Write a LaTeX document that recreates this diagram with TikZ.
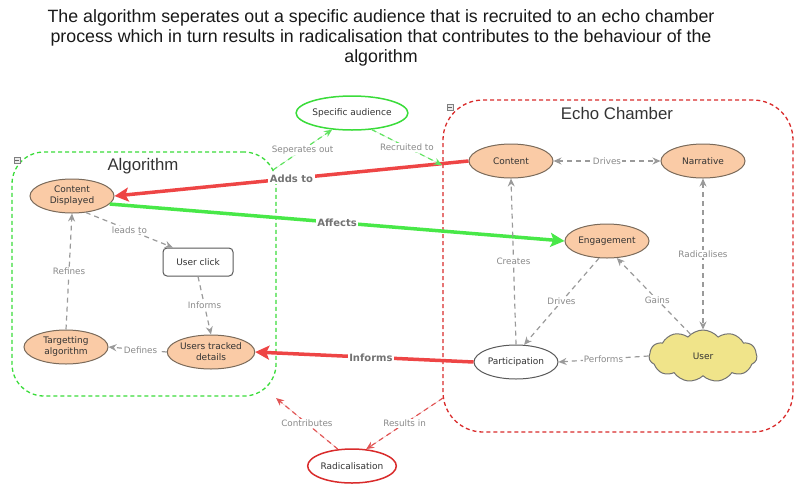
\documentclass[tikz,border=0pt]{standalone}
\usepackage{fontspec}
\setmainfont{Liberation Sans}
\newfontfamily\nodefont{DejaVu Sans}
\usetikzlibrary{shapes.geometric,shapes.symbols,arrows.meta,calc}
\definecolor{peach}{HTML}{FACBA6}
\definecolor{peachline}{HTML}{7A6A5A}
\definecolor{thickred}{HTML}{EE4545}
\definecolor{thickgreen}{HTML}{48E848}
\definecolor{grpgreen}{HTML}{3ADC3A}
\definecolor{grpred}{HTML}{D92B2B}
\definecolor{lblgray}{HTML}{8A8A8A}
\definecolor{conngray}{HTML}{9A9A9A}
\definecolor{cloudfill}{HTML}{F0E48A}
\tikzset{
  x=1pt,y=-1pt,
  every node/.style={font=\nodefont\fontsize{9}{11}\selectfont, text=black!80},
  peachnode/.style={ellipse, draw=peachline, fill=peach, line width=1pt, minimum width=84pt, minimum height=34pt, inner sep=0pt, align=center},
  whitenode/.style={ellipse, draw=black!65, fill=white, line width=1pt, minimum width=84pt, minimum height=34pt, inner sep=0pt, align=center},
  grouptitle/.style={font=\fontsize{16.8}{20}\selectfont, text=black!80},
  grpbox/.style={rounded corners=32pt, dash pattern=on 4pt off 3pt, line width=1.3pt},
  conn/.style={draw=conngray, dash pattern=on 5pt off 4pt, line width=1.2pt, -{Stealth[length=8pt,width=7pt]}},
  gconn/.style={conn, draw=grpgreen!80!white, fill=grpgreen},
  rconn/.style={conn, draw=grpred!80!white, fill=grpred},
  lbl/.style={fill=white, inner sep=1pt, text=lblgray, font=\nodefont\fontsize{8.8}{10}\selectfont},
  thickarrow/.style={line width=3.5pt, -{Stealth[length=14pt,width=14pt,inset=3pt]}},
  biglbl/.style={fill=white, inner sep=1.5pt, text=black!55, font=\nodefont\bfseries\fontsize{10}{12}\selectfont},
  icon/.style={draw=black!50, fill=black!8, line width=0.5pt, minimum size=6pt, inner sep=0pt}
}
\begin{document}
\begin{tikzpicture}
\useasboundingbox (0,0) rectangle (800,491);
% title
\node[font=\fontsize{17.8}{20}\selectfont, align=center, text=black!90] (title) at (381,38)
 {The algorithm seperates out a specific audience that is recruited to an echo chamber\\
  process which in turn results in radicalisation that contributes to the behaviour of the\\
  algorithm};
% groups
\node[grpbox, draw=grpgreen, minimum width=264pt, minimum height=244pt] (alg) at (144,274) {};
\node[grpbox, draw=grpred, rounded corners=40pt, minimum width=350pt, minimum height=332pt] (echo) at (618,266) {};
\node[grouptitle] (algt) at (143,166) {Algorithm};
\node[grouptitle] (echot) at (617,113) {Echo Chamber};
\node[icon] (ic1) at (17,160) {};
\draw[black!60, line width=0.6pt] ($(ic1.west)+(1.5pt,0)$) -- ($(ic1.east)+(-1.5pt,0)$);
\node[icon] (ic2) at (450,107) {};
\draw[black!60, line width=0.6pt] ($(ic2.west)+(1.5pt,0)$) -- ($(ic2.east)+(-1.5pt,0)$);
% nodes
\node[peachnode] (cd) at (72,196) {Content\\Displayed};
\node[draw=black!65, fill=white, rounded corners=4pt, line width=1pt, minimum width=70pt, minimum height=28pt] (uc) at (198,262) {User click};
\node[peachnode] (ta) at (66,347) {Targetting\\algorithm};
\node[peachnode] (utd) at (211,352) {Users tracked\\details};
\node[ellipse, draw=grpgreen, fill=white, line width=1.5pt, minimum width=82pt, minimum height=34pt, inner sep=0pt] (sa) at (352,113) {Specific audience};
\node[peachnode] (ct) at (511,161) {Content};
\node[peachnode] (nar) at (703,161) {Narrative};
\node[peachnode] (eng) at (607,241) {Engagement};
\node[whitenode] (par) at (516,362) {Participation};
\node[cloud, cloud puffs=11, cloud puff arc=100, aspect=2.2, draw=black!55, fill=cloudfill, line width=1pt, minimum width=108pt, minimum height=52pt, inner sep=0pt] (usr) at (703,356) {User};
\node[ellipse, draw=grpred, fill=white, line width=1.5pt, minimum width=84pt, minimum height=34pt, inner sep=0pt] (rad) at (352,466) {Radicalisation};
% coordinates on group borders
\coordinate (sepS) at (273,170);
\coordinate (recE) at (442,165);
\coordinate (conE) at (276,398);
\coordinate (resS) at (443,398);
% thick connectors
\draw[thickarrow, draw=thickred, fill=thickred] (ct.west) -- node[biglbl, pos=0.5] {Adds to} (cd.east);
\draw[thickarrow, draw=thickgreen, fill=thickgreen] (cd.-12) -- node[biglbl, pos=0.5] {Affects} (eng.west);
\draw[thickarrow, draw=thickred, fill=thickred] (par.west) -- node[biglbl, pos=0.47] {Informs} (utd.east);
% algorithm connectors
\draw[conn] (cd.-50) -- node[lbl, pos=0.5] {leads to} (uc.150);
\draw[conn] (uc.south) -- node[lbl, pos=0.5] {Informs} (utd.north);
\draw[conn] (utd.west) -- node[lbl, pos=0.45] {Defines} (ta.east);
\draw[conn] (ta.north) -- node[lbl, pos=0.5] {Refines} (cd.south);
% group connectors
\draw[gconn] (sepS) -- node[lbl, pos=0.5] {Seperates out} (sa.-140);
\draw[gconn] (sa.-40) -- node[lbl, pos=0.5] {Recruited to} (recE);
\draw[rconn] (rad.130) -- node[lbl, pos=0.5] {Contributes} (conE);
\draw[rconn] (resS) -- node[lbl, pos=0.5] {Results in} (rad.50);
% echo chamber connectors
\draw[conn, {Stealth[length=8pt,width=7pt]}-{Stealth[length=8pt,width=7pt]}] (ct.east) -- node[lbl] {Drives} (nar.west);
\draw[conn] (par.north) -- node[lbl, pos=0.5] {Creates} (ct.south);
\draw[conn] (eng.-115) -- node[lbl, pos=0.5] {Drives} (par.65);
\draw[conn] (usr.120) -- node[lbl, pos=0.45] {Gains} (eng.-60);
\draw[conn, {Stealth[length=8pt,width=7pt]}-{Stealth[length=8pt,width=7pt]}] (nar.south) -- node[lbl, pos=0.5] {Radicalises} (usr.north);
\draw[conn] (usr.west) -- node[lbl, pos=0.5] {Performs} (par.east);
\end{tikzpicture}
\end{document}
